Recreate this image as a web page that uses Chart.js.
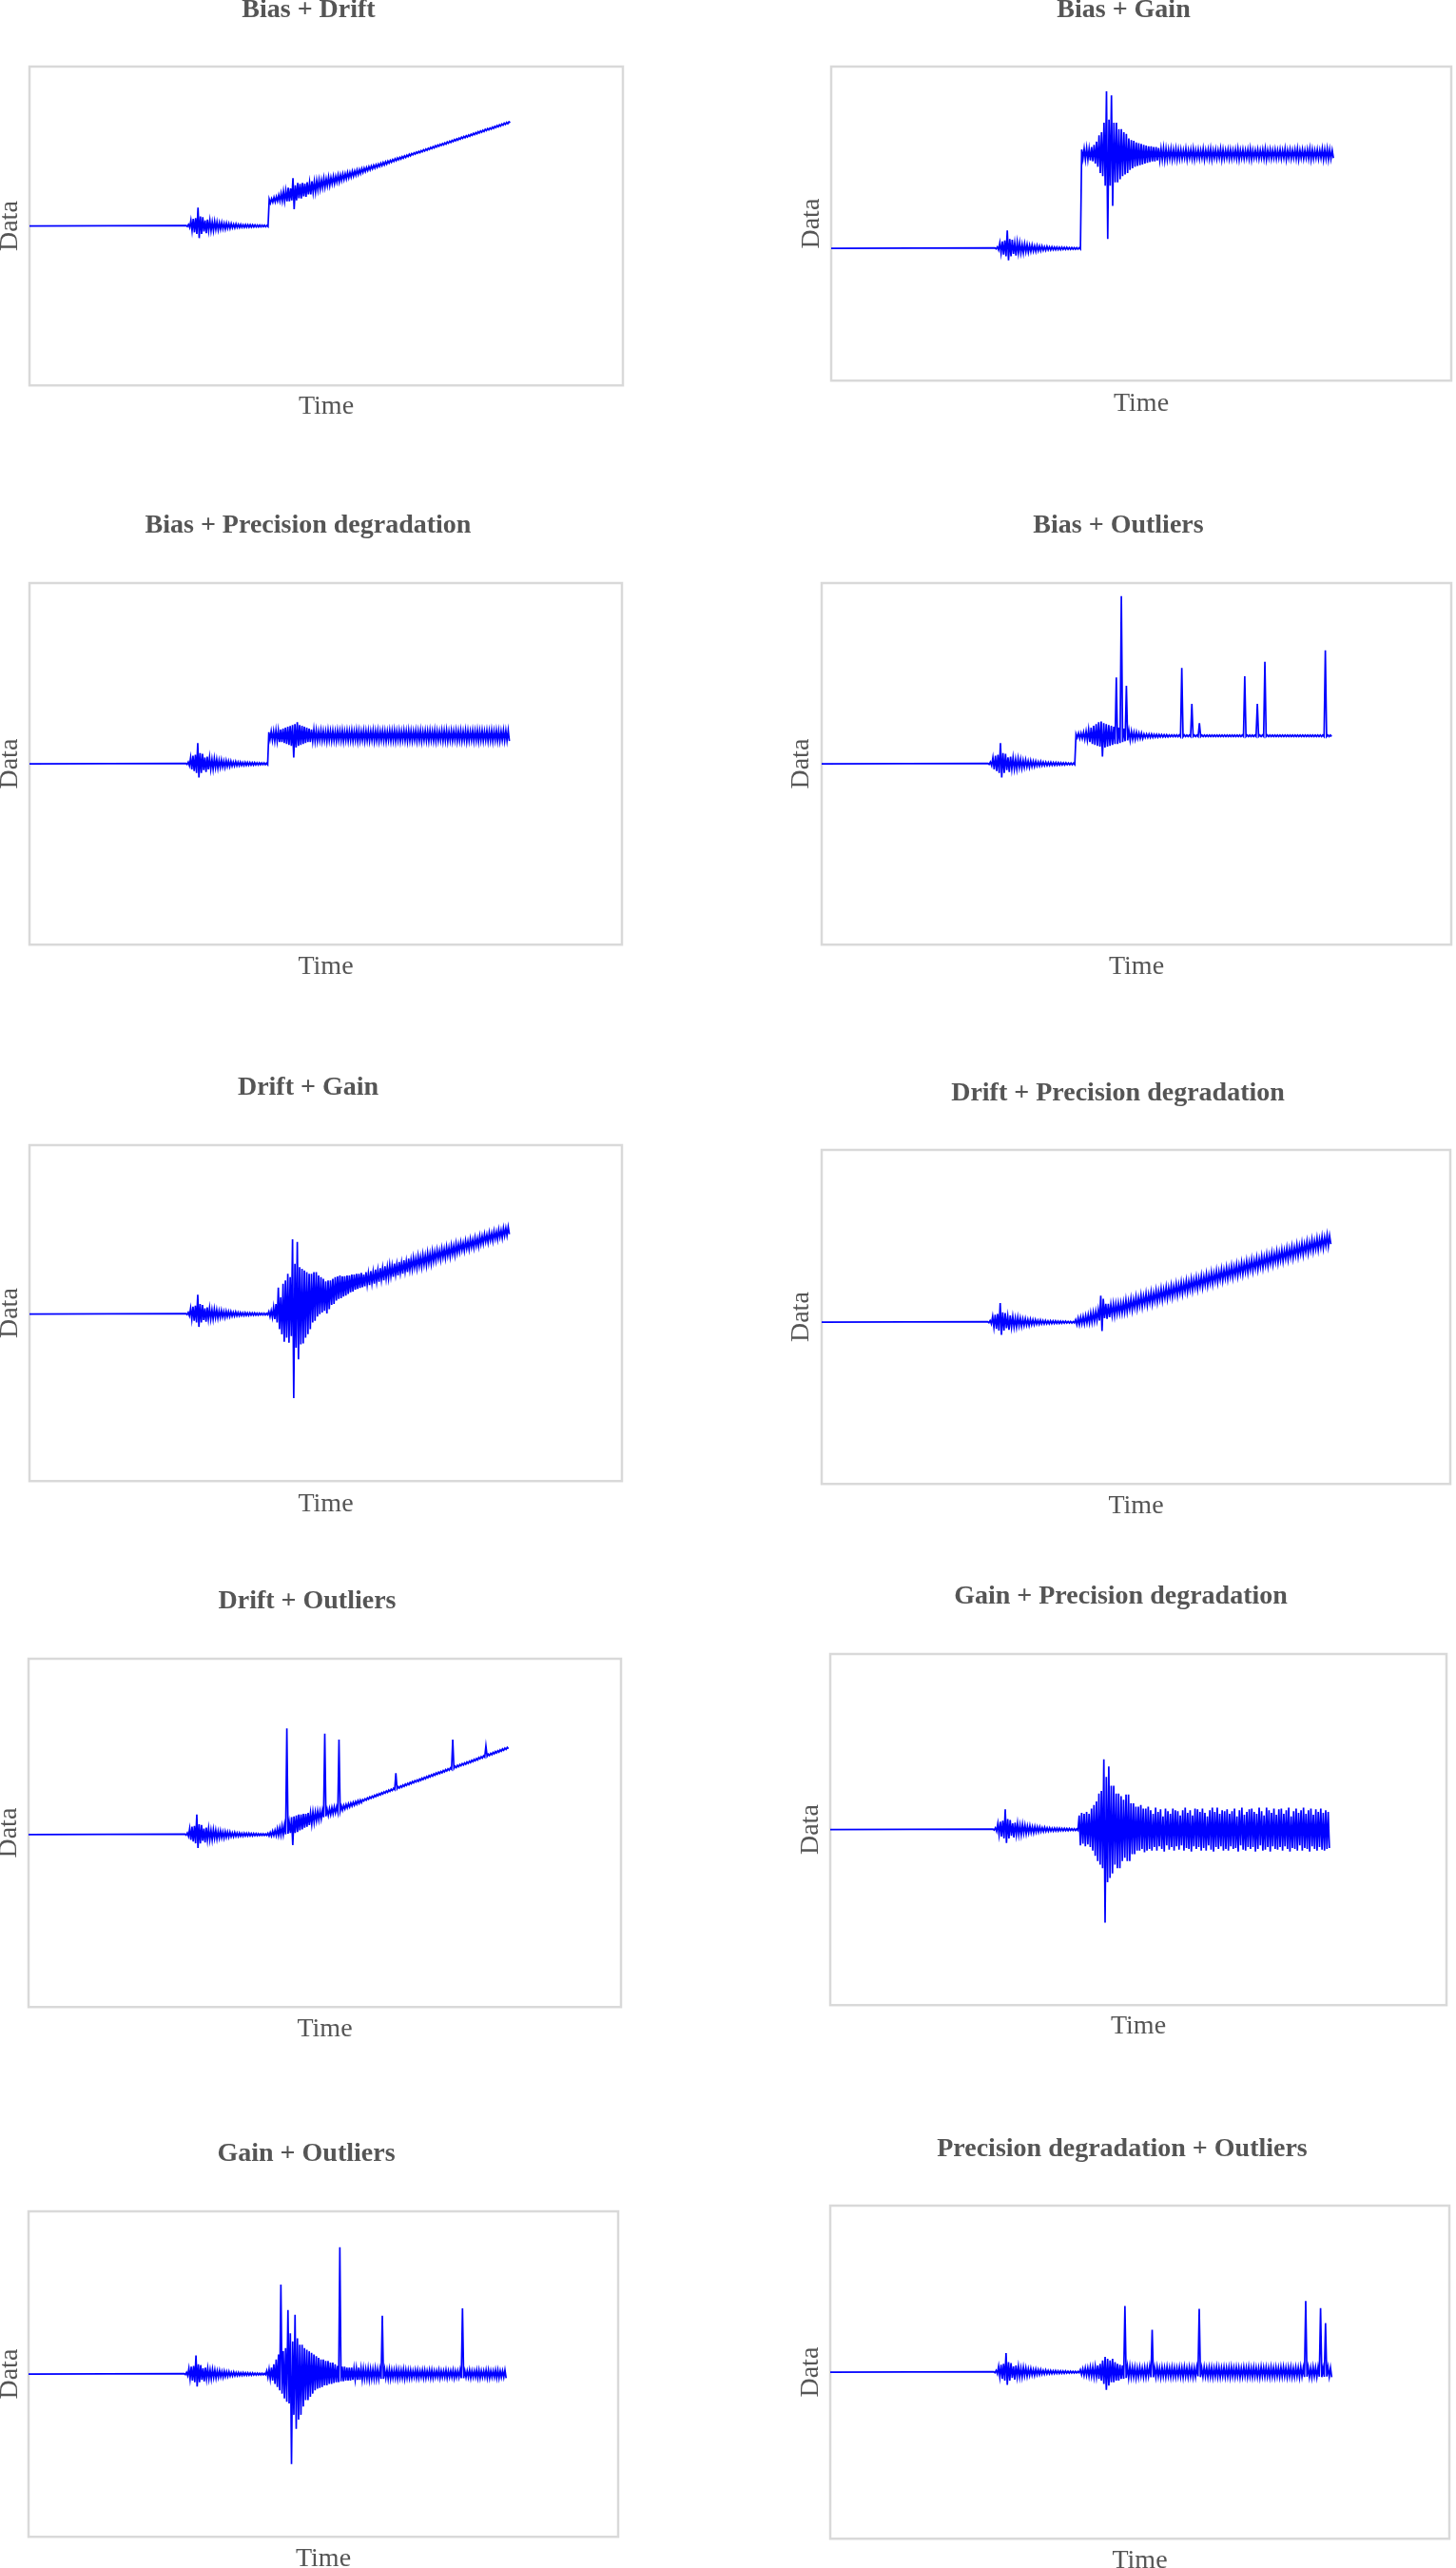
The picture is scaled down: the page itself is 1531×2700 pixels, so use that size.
<!DOCTYPE html>
<html>
<head>
<meta charset="utf-8">
<title>Fault combinations</title>
<script src="https://cdn.jsdelivr.net/npm/chart.js@4.4.1/dist/chart.umd.min.js"></script>
<style>
  html, body { margin: 0; padding: 0; background: #fff; }
  body { position: relative; width: 1531px; height: 2700px; overflow: hidden; }
  canvas { position: absolute; }
</style>
</head>
<body>
<script>
// time runs 0..1000 across the plot; the signal is flat until preStart.
// every sample has a high and a low reading (top / bottom of the band),
// the high one at t, the low one half a step later
const preStart = 264;
const postStart = 404;
const sampleStep = 4;
const timeMax = 1000;

// first small event, the same in every panel (t = 264..400)
const preHigh = [
  0.3, 1, 3.5, 4.5, 5, 11.5, 6, 5.5, 3.5, 4,
  3.5, 2.5, 3, 2.5, 2, 2.2, 1.6, 1.8, 1.5, 1.5,
  1.1, 1.3, 1, 1, 0.8, 0.9, 0.8, 0.8, 0.7, 0.7,
  0.6, 0.6, 0.5, 0.5, 0.4
];
const preLow = [
  -0.3, -1, -3, -4, -5, -7.6, -5, -3.5, -4.5, -3,
  -3, -3, -2.2, -2.5, -2, -1.8, -2, -1.5, -1.5, -1.2,
  -1.2, -1, -1, -0.9, -0.9, -0.8, -0.8, -0.7, -0.7, -0.6,
  -0.6, -0.5, -0.5, -0.5, -0.4
];

// after the faults start (t = 404..808)
const biasDriftHigh = [
  16.8, 17.1, 18.0, 18.4, 19.4, 20.4, 21.8, 22.2, 24.0, 23.6,
  30, 25.5, 27.0, 26.4, 27.0, 26.5, 27.4, 27.2, 28.0, 27.9,
  28.4, 28.9, 28.8, 30.0, 29.6, 30.7, 30.4, 31.2, 31.1, 32.0,
  32.1, 32.7, 32.8, 33.6, 33.6, 34.4, 34.5, 35.2, 35.4, 36.0,
  36.3, 36.7, 37.2, 37.6, 38.1, 38.5, 38.9, 39.4, 39.9, 40.4,
  40.8, 41.2, 41.7, 42.2, 42.7, 43.1, 43.5, 44.0, 44.5, 45.0,
  45.4, 45.9, 46.4, 46.8, 47.3, 47.8, 48.3, 48.8, 49.3, 49.8,
  50.3, 50.8, 51.3, 51.7, 52.2, 52.7, 53.2, 53.7, 54.2, 54.7,
  55.2, 55.7, 56.2, 56.6, 57.1, 57.6, 58.1, 58.6, 59.1, 59.6,
  60.1, 60.6, 61.1, 61.5, 62.0, 62.5, 63.0, 63.5, 64.0, 64.5,
  65.0, 65.4
];
const biasDriftLow = [
  14.4, 14.9, 15.1, 15.6, 15.6, 15.6, 15.5, 15.5, 15.5, 16.0,
  10.5, 16.0, 17.4, 17.2, 18.6, 18.3, 19.8, 19.8, 21.0, 21.2,
  22.6, 23.1, 24.0, 24.3, 25.2, 25.3, 26.4, 26.5, 27.5, 27.6,
  28.5, 29.0, 29.6, 30.2, 30.7, 31.2, 31.8, 32.3, 32.9, 33.5,
  34.1, 34.7, 35.2, 35.8, 36.3, 36.8, 37.3, 37.8, 38.3, 38.8,
  39.4, 40.0, 40.5, 41.0, 41.5, 42.0, 42.5, 43.0, 43.5, 44.0,
  44.6, 45.1, 45.6, 46.0, 46.5, 47.0, 47.5, 48.0, 48.5, 49.0,
  49.5, 50.0, 50.5, 50.9, 51.4, 51.9, 52.4, 52.9, 53.4, 53.9,
  54.4, 54.9, 55.4, 55.8, 56.3, 56.8, 57.3, 57.8, 58.3, 58.8,
  59.3, 59.8, 60.3, 60.7, 61.2, 61.7, 62.2, 62.7, 63.2, 63.7,
  64.2, 64.8
];

const biasGainHigh = [
  63, 63.5, 64, 63.5, 64.5, 66, 68, 72, 74, 80,
  100, 82, 97.5, 80, 80, 76, 76, 74, 73, 70,
  69, 68.5, 67.5, 67, 66.5, 66, 65.5, 65, 65, 64.5,
  64.5, 64, 63.5, 64, 63.5, 63, 63.5, 63, 63.5, 63,
  63, 62.5, 63.5, 62.5, 63, 63.5, 62.5, 63, 62.5, 63.5,
  62.5, 63, 63.5, 62.5, 63, 62.5, 63.5, 63, 62.5, 63,
  63, 62.5, 63, 63.5, 62.5, 63, 62.5, 63, 63.5, 62.5,
  62.5, 63, 62.5, 63, 63.5, 62.5, 63, 62.5, 63, 62.5,
  63, 62.5, 63.5, 62.5, 63, 62.5, 63, 63.5, 62.5, 63,
  62.5, 63, 63.5, 63, 62.5, 63, 62.5, 63.5, 63, 63.5,
  63, 62.5
];
const biasGainLow = [
  57, 56.5, 56.5, 56, 55.5, 54, 52, 48, 46, 40,
  6, 40, 27, 42, 42, 44, 46, 47, 48, 50,
  51, 52, 52.5, 53, 53.5, 54, 54.5, 55, 55.5, 55.5,
  56, 56, 56.5, 56, 56.5, 57, 56.5, 57, 56.5, 57,
  57, 57.5, 56.5, 57.5, 57, 56.5, 57.5, 57, 57.5, 56.5,
  57.5, 57, 56.5, 57.5, 57, 57.5, 56.5, 57, 57.5, 57,
  57, 57.5, 57, 56.5, 57.5, 57, 57.5, 57, 56.5, 57.5,
  57.5, 57, 57.5, 57, 56.5, 57.5, 57, 57.5, 57, 57.5,
  57, 57.5, 56.5, 57.5, 57, 57.5, 57, 56.5, 57.5, 57,
  57.5, 57, 56.5, 57, 57.5, 57, 57.5, 56.5, 57, 56.5,
  57, 57.5
];

const biasPrecisionHigh = [
  17.5, 18, 18, 18.5, 18.5, 19, 19.5, 20, 20.5, 21,
  21.5, 22, 23, 21.5, 21, 20.5, 20, 19.5, 19, 19,
  18.5, 18, 18.5, 18.2, 18, 18.6, 18.2, 18.4, 18, 18.5,
  18.2, 18.6, 18, 18.4, 18.2, 18.5, 18, 18.6, 18.3, 18,
  18.5, 18.2, 18.4, 18, 18.6, 18.2, 18.5, 18, 18.4, 18.2,
  18, 18.5, 18.3, 18.6, 18.1, 18.4, 18, 18.5, 18.2, 18.6,
  18.3, 18, 18.5, 18.2, 18.6, 18, 18.4, 18.2, 18.5, 18,
  18.6, 18.2, 18, 18.5, 18.3, 18.6, 18, 18.4, 18.2, 18.5,
  18.2, 18.5, 18, 18.6, 18.3, 18, 18.5, 18.2, 18.6, 18.3,
  18.5, 18, 18.4, 18.2, 18.6, 18.1, 18.5, 18.3, 18, 18.6,
  18.3, 18.5
];
const biasPrecisionLow = [
  13.5, 13, 12.5, 12.5, 12, 12, 11.5, 11, 10.5, 10,
  3.5, 9, 10, 10.5, 11, 11.5, 12, 12, 12.5, 12.5,
  12.5, 13, 12.7, 12.9, 12.4, 13, 12.6, 12.8, 12.5, 13,
  12.8, 12.4, 13, 12.6, 12.9, 12.5, 13, 12.4, 12.7, 13,
  12.5, 12.9, 12.6, 13, 12.4, 12.8, 12.5, 13, 12.7, 12.4,
  13, 12.6, 12.8, 12.4, 12.9, 12.5, 13, 12.7, 12.4, 12.8,
  12.6, 13, 12.5, 12.8, 12.4, 13, 12.7, 12.5, 12.9, 12.6,
  12.4, 12.8, 13, 12.5, 12.7, 12.4, 12.9, 12.6, 13, 12.5,
  12.8, 12.5, 12.9, 12.4, 12.7, 13, 12.5, 12.8, 12.4, 12.9,
  12.6, 13, 12.5, 12.8, 12.4, 12.9, 12.6, 12.5, 13, 12.7,
  12.8, 12.6
];

const biasOutliersHigh = [
  16.5, 17, 17, 17.5, 18, 19, 20, 21, 22, 23,
  23.5, 22.5, 22, 21.5, 21, 20.5, 47.8, 20, 92.8, 19.5,
  43.2, 18.5, 18, 17.5, 17.5, 17, 17, 16.5, 16.5, 16.5,
  16.5, 16.3, 16.3, 16.2, 16.2, 16.1, 16.1, 16, 16, 16,
  16, 16, 53.1, 16, 15.9, 15.9, 33.2, 15.9, 15.9, 22.5,
  15.9, 15.9, 15.9, 15.9, 15.9, 15.9, 15.9, 15.9, 15.9, 15.9,
  15.9, 15.9, 15.9, 15.9, 15.9, 15.9, 15.9, 48.5, 15.9, 15.9,
  15.9, 15.9, 33.2, 15.9, 15.9, 56.5, 15.9, 15.9, 15.9, 15.9,
  15.9, 15.9, 15.9, 15.9, 15.9, 15.9, 15.9, 15.9, 15.9, 15.9,
  15.9, 15.9, 15.9, 15.9, 15.9, 15.9, 15.9, 15.9, 15.9, 62.8,
  15.9, 15.9
];
const biasOutliersLow = [
  14.5, 14, 14, 13.5, 13, 12, 11, 10.5, 10, 9.5,
  4, 9, 9.5, 10, 10.5, 11, 11, 11.5, 12, 12.5,
  13, 13, 13.5, 13.5, 14, 14, 14, 14.5, 14.5, 14.5,
  14.6, 14.7, 14.7, 14.8, 14.8, 14.9, 14.9, 15, 15, 15,
  15, 15, 15, 15.1, 15.1, 15.1, 15.1, 15.1, 15.1, 15.1,
  15.1, 15.1, 15.1, 15.1, 15.1, 15.1, 15.1, 15.1, 15.1, 15.1,
  15.1, 15.1, 15.1, 15.1, 15.1, 15.1, 15.1, 15.1, 15.1, 15.1,
  15.1, 15.1, 15.1, 15.1, 15.1, 15.1, 15.1, 15.1, 15.1, 15.1,
  15.1, 15.1, 15.1, 15.1, 15.1, 15.1, 15.1, 15.1, 15.1, 15.1,
  15.1, 15.1, 15.1, 15.1, 15.1, 15.1, 15.1, 15.1, 15.1, 15.1,
  15.1, 15.1
];

const driftGainHigh = [
  1.5, 2, 4, 6, 15.8, 10, 18, 20, 24, 22,
  44.5, 30, 43, 28, 27, 26, 25, 24, 24, 25,
  25, 23, 22, 21, 19.5, 20, 20, 21, 22, 22.5,
  23, 22.5, 22.5, 23, 23, 23.5, 23.5, 24, 24, 24.5,
  23.5, 25, 24.2, 25.6, 25.1, 26.5, 26.1, 27.4, 27.2, 28.5,
  28, 29.1, 28.7, 30.0, 29.6, 31.0, 30.6, 32.0, 31.5, 33.0,
  32.4, 33.6, 33.1, 34.5, 34.0, 35.4, 35.0, 36.4, 35.9, 37.3,
  37.1, 38.2, 37.8, 39.1, 38.7, 40.0, 39.6, 40.9, 40.6, 41.9,
  41.6, 42.8, 42.4, 43.7, 43.3, 44.6, 44.2, 45.5, 45.1, 46.5,
  46.4, 47.6, 47.2, 48.5, 48.1, 49.4, 49.0, 50.3, 49.9, 51.3,
  51.2, 52.0
];
const driftGainLow = [
  -1.5, -2, -3, -5, -9, -12, -16.5, -14, -17, -13,
  -50, -20, -27, -18, -17.5, -14, -12, -9, -5, -4,
  -1.5, 0, 1, 2, 0.4, 3, 5.5, 6, 8, 9,
  9.5, 10.5, 11, 12, 13, 13.5, 14.5, 15, 15.5, 16,
  16.5, 17.6, 17.2, 18.5, 18.1, 19.4, 19.2, 20.5, 20.1, 21.4,
  21.5, 22.6, 22.2, 23.5, 23.1, 24.5, 24.0, 25.4, 25.0, 26.4,
  26.6, 27.7, 27.3, 28.6, 28.2, 29.5, 29.0, 30.4, 30.0, 31.3,
  31.8, 32.9, 32.5, 33.8, 33.3, 34.7, 34.2, 35.6, 35.1, 36.4,
  37.0, 38.0, 37.6, 38.9, 38.5, 39.8, 39.4, 40.7, 40.3, 41.6,
  41.9, 43.0, 42.6, 43.9, 43.5, 44.8, 44.4, 45.7, 45.3, 46.6,
  46.7, 47.6
];

const driftPrecisionHigh = [
  1.5, 2.5, 3, 3.5, 4, 4.5, 5.5, 6, 6.5, 7.5,
  15.9, 14, 11, 11, 10.5, 11, 11, 11.5, 11.5, 12,
  13.3, 12.7, 14.2, 13.7, 15.2, 14.7, 16.2, 15.7, 17.2, 16.7,
  18.1, 17.6, 19.1, 18.6, 20.1, 19.6, 21.1, 20.6, 22.0, 21.5,
  23.0, 22.5, 24.0, 23.5, 25.0, 24.5, 26.0, 25.5, 26.9, 26.4,
  27.9, 27.4, 28.9, 28.4, 29.9, 29.4, 30.9, 30.4, 31.8, 31.3,
  32.8, 32.3, 33.8, 33.2, 34.7, 34.2, 35.7, 35.2, 36.7, 36.2,
  37.7, 37.1, 38.6, 38.1, 39.6, 39.1, 40.6, 40.1, 41.6, 41.1,
  42.5, 42.0, 43.5, 43.0, 44.5, 44.0, 45.4, 44.9, 46.4, 45.9,
  47.4, 46.9, 48.4, 47.9, 49.4, 48.8, 50.3, 49.8, 51.3, 50.8,
  52.3, 51.8
];
const driftPrecisionLow = [
  -1.5, -1.5, -1, -1, -0.5, -0.5, 0, 0.5, 1, 1,
  -5.2, 2.5, 2, 3, 4, 4, 5, 5.5, 5.5, 6,
  6.3, 7.7, 7.2, 8.7, 8.2, 9.7, 9.2, 10.7, 10.2, 11.7,
  11.1, 12.6, 12.1, 13.6, 13.1, 14.6, 14.1, 15.6, 15.0, 16.5,
  16.0, 17.5, 17.0, 18.5, 18.0, 19.5, 19.0, 20.5, 19.9, 21.4,
  20.9, 22.4, 21.9, 23.4, 22.9, 24.4, 23.9, 25.4, 24.8, 26.3,
  25.8, 27.3, 26.8, 28.2, 27.7, 29.2, 28.7, 30.2, 29.7, 31.2,
  30.7, 32.1, 31.6, 33.1, 32.6, 34.1, 33.6, 35.1, 34.6, 36.1,
  35.5, 37.0, 36.5, 38.0, 37.5, 39.0, 38.4, 39.9, 39.4, 40.9,
  40.4, 41.9, 41.4, 42.9, 42.4, 43.8, 43.3, 44.8, 44.3, 45.8,
  45.3, 46.8
];

const driftOutliersHigh = [
  0.8, 1.2, 2, 2.5, 3.5, 4, 5, 5.5, 61, 7,
  10, 10.5, 11, 11.5, 11.5, 12, 12, 12.5, 12.5, 13,
  13, 13.5, 13.5, 14, 58, 14.5, 15, 15.5, 16, 16,
  54.6, 16.5, 16.8, 17.3, 17.8, 18.2, 18.6, 19, 19.5, 19.9,
  20.1, 20.6, 21.1, 21.6, 22.1, 22.6, 23.1, 23.6, 24.1, 24.6,
  25.1, 25.6, 26.1, 26.6, 35.3, 27.5, 28.0, 28.5, 29.0, 29.5,
  30.0, 30.5, 31.0, 31.4, 31.9, 32.4, 32.9, 33.4, 33.9, 34.4,
  34.9, 35.4, 35.9, 36.3, 36.8, 37.3, 37.8, 38.3, 54.6, 39.3,
  39.8, 40.3, 40.8, 41.2, 41.7, 42.2, 42.7, 43.2, 43.7, 44.3,
  44.8, 45.3, 50.9, 46.2, 46.7, 47.2, 47.7, 48.2, 48.7, 49.2,
  49.7, 50.1
];
const driftOutliersLow = [
  -0.8, -0.8, -0.5, -0.5, -0.5, -0.3, 0, 0.2, 0.5, 1,
  -6, 1, 1.5, 2.5, 3, 4, 4.5, 5.5, 6, 7,
  8, 8.5, 9, 10, 10.5, 11, 11.5, 12, 12.5, 13,
  13.5, 14, 14.7, 15.3, 15.8, 16.4, 16.9, 17.4, 17.9, 18.4,
  19.3, 19.8, 20.3, 20.8, 21.3, 21.8, 22.3, 22.8, 23.3, 23.8,
  24.3, 24.8, 25.3, 25.8, 26.3, 26.7, 27.2, 27.7, 28.2, 28.7,
  29.2, 29.7, 30.2, 30.6, 31.1, 31.6, 32.1, 32.6, 33.1, 33.6,
  34.1, 34.6, 35.1, 35.5, 36.0, 36.5, 37.0, 37.5, 38.0, 38.5,
  39.0, 39.5, 40.0, 40.4, 40.9, 41.4, 41.9, 42.4, 42.9, 43.5,
  44.0, 44.5, 45.0, 45.4, 45.9, 46.4, 46.9, 47.4, 47.9, 48.4,
  48.9, 49.3
];

const gainPrecisionHigh = [
  8, 9.5, 9, 10, 9, 12, 14, 16, 20.5, 22,
  40, 30, 36, 25, 25, 20.5, 20.5, 19, 17, 20,
  20, 15, 15, 13, 13, 14, 12, 12, 13, 11,
  9, 12.5, 10, 11.5, 7.5, 12, 10.5, 9, 12, 11,
  10.5, 8, 11, 12.5, 9.5, 11, 8, 12, 11.5, 10,
  12, 9.5, 7.5, 11, 12.5, 10, 12.5, 9, 11, 10.5,
  11.5, 9, 10.5, 12, 7.5, 11, 12.5, 8.5, 10, 11.5,
  12, 10, 9, 12.5, 10.5, 8, 12.5, 11, 9.5, 12,
  8.5, 11.5, 12, 9, 11, 12.5, 7.5, 10.5, 12, 9.5,
  11, 12.5, 9, 11, 12, 8.5, 11.5, 10, 12, 9.5,
  11, 10
];
const gainPrecisionLow = [
  -9, -8, -9.5, -8.5, -10, -12, -15, -18, -20, -22,
  -53, -30, -27.6, -25, -20, -22, -22, -18, -16, -18,
  -18, -14, -14, -12, -12, -11, -13, -12, -11, -12,
  -10, -12, -9.5, -11, -12.5, -9, -11.5, -10, -12, -9.5,
  -11.5, -9, -12, -10.5, -11, -12.5, -9.5, -11, -10, -12,
  -10.5, -12, -9, -11.5, -12.5, -10, -11, -9.5, -12, -11,
  -12, -9.5, -11, -10.5, -12.5, -9, -11.5, -12, -10, -11,
  -10, -12.5, -11, -9, -12, -11.5, -10, -12.5, -9.5, -11,
  -11.5, -10, -12, -9.5, -11, -12.5, -10.5, -11, -12, -9,
  -12, -10.5, -11, -12.5, -9.5, -11, -12, -10, -11.5, -12,
  -11, -10.5
];

const gainOutliersHigh = [
  2, 3, 4, 6, 9, 12, 55, 14, 16, 39.4,
  25, 20, 36.5, 22, 18, 18, 16, 15, 14, 13,
  12, 11, 10, 9, 9, 8, 8, 7, 7, 6,
  5, 78, 4.5, 4.5, 4, 4, 4, 3.5, 3.5, 4,
  3.5, 3.5, 3, 3.5, 3, 3, 3.5, 3, 3, 35.9,
  3, 2.5, 3, 2.5, 2.5, 3, 2.5, 2.5, 3, 2.5,
  2.5, 2.5, 2, 2.5, 2.5, 2, 2.5, 2.5, 2, 2.5,
  2.5, 2, 2, 2.5, 2, 2, 2.5, 2, 2, 2.5,
  2, 2, 2.5, 40.4, 2, 2, 2.5, 2, 2, 2.5,
  2.5, 2, 2, 2.5, 2.5, 2, 2, 2.5, 2.5, 2,
  2, 2.5
];
const gainOutliersLow = [
  -2, -3, -4, -6, -8, -10, -12, -15, -17, -18,
  -55.3, -25, -33.7, -28, -25, -20, -16, -16, -14, -12,
  -10, -9, -8.5, -8, -7, -7, -6, -6, -5.5, -5,
  -5, -4.5, -4.5, -4, -4, -4, -3.5, -3.5, -3.5, -3.5,
  -3.5, -3, -3, -3.5, -3, -3, -3, -3, -3, -3,
  -2.5, -3, -3, -2.5, -2.5, -3, -2.5, -2.5, -3, -2.5,
  -2.5, -2.5, -2, -2.5, -2.5, -2, -2.5, -2.5, -2, -2.5,
  -2.5, -2, -2, -2.5, -2, -2, -2.5, -2, -2, -2.5,
  -2, -2, -2.5, -2.5, -2, -2, -2.5, -2, -2, -2.5,
  -2.5, -2, -2, -2.5, -2.5, -2, -2, -2.5, -2.5, -2,
  -2, -2.5
];

const precisionOutliersHigh = [
  1.5, 2, 2.5, 2.5, 3, 3, 3.5, 4, 5, 7,
  9.2, 8, 7, 8, 6, 5, 4.5, 4, 39.7, 3.5,
  3.5, 3, 3, 2.5, 3, 2.5, 3, 3, 3.5, 25.5,
  2.8, 3.2, 2.5, 3, 2.7, 3.2, 2.6, 3, 2.8, 2.5,
  3, 2.7, 3.2, 2.5, 3, 2.8, 2.6, 3.1, 38, 2.7,
  3.2, 2.6, 2.9, 3, 2.5, 3.2, 2.8, 2.6, 3, 2.7,
  2.9, 3.2, 2.6, 3, 2.8, 2.5, 3.1, 2.7, 3.2, 2.6,
  3, 2.7, 2.5, 3.2, 2.8, 3, 2.6, 3.1, 2.7, 3,
  2.6, 3, 3.2, 2.7, 2.9, 3.1, 2.5, 3, 2.8, 3.2,
  2.7, 42.8, 3, 2.6, 3.2, 2.8, 3, 38.4, 2.6, 29.4,
  3, 2.7
];
const precisionOutliersLow = [
  -1.5, -2, -2, -2.5, -2.5, -3, -3, -4, -5, -7,
  -10.6, -8, -6, -6, -5, -5, -4, -4, -3.5, -3.5,
  -3, -3, -3.5, -3, -2.5, -3, -3, -2.5, -3, -3,
  -3, -2.6, -3.2, -2.7, -3, -2.5, -3.1, -2.8, -3, -2.6,
  -2.8, -3.2, -2.6, -3, -2.7, -3.1, -2.9, -2.5, -3, -2.8,
  -2.6, -3, -2.8, -3.2, -2.7, -2.9, -3.1, -2.6, -3, -2.8,
  -3.1, -2.7, -3, -2.6, -3.2, -2.8, -2.6, -3, -2.7, -3.1,
  -2.7, -3, -3.2, -2.6, -2.9, -2.7, -3.1, -2.8, -3, -2.6,
  -3, -2.8, -2.6, -3.1, -2.7, -3, -2.9, -2.6, -3.2, -2.7,
  -2.9, -2.7, -3, -3.2, -2.6, -3, -2.7, -3, -2.8, -2.6,
  -2.8, -3
];

const panelTitles = [
  "Bias + Drift", "Bias + Gain",
  "Bias + Precision degradation", "Bias + Outliers",
  "Drift + Gain", "Drift + Precision degradation",
  "Drift + Outliers", "Gain + Precision degradation",
  "Gain + Outliers", "Precision degradation + Outliers"
];
const panelHigh = [
  biasDriftHigh, biasGainHigh, biasPrecisionHigh, biasOutliersHigh, driftGainHigh,
  driftPrecisionHigh, driftOutliersHigh, gainPrecisionHigh, gainOutliersHigh, precisionOutliersHigh
];
const panelLow = [
  biasDriftLow, biasGainLow, biasPrecisionLow, biasOutliersLow, driftGainLow,
  driftPrecisionLow, driftOutliersLow, gainPrecisionLow, gainOutliersLow, precisionOutliersLow
];
const panelYMin = [-100, -84.2, -100, -100, -99.4, -96.8, -99, -100, -100, -100];
const panelYMax = [100, 115.8, 100, 100, 100.6, 103.2, 101, 100, 100, 100];

// page geometry: plot box [left, top, right, bottom], title / axis label centres
const panelLayout = [
  { box: [31, 70, 655, 403], titleY: 11, timeY: 425, dataX: 10.5 },
  { box: [874, 70, 1526, 398], titleY: 11, timeY: 422, dataX: 854 },
  { box: [31, 613, 654, 991], titleY: 553, timeY: 1014, dataX: 10.5 },
  { box: [864, 613, 1526, 991], titleY: 553, timeY: 1014, dataX: 843 },
  { box: [31, 1204, 654, 1555], titleY: 1144, timeY: 1579, dataX: 10.5 },
  { box: [864, 1209, 1525, 1558], titleY: 1150, timeY: 1581, dataX: 843 },
  { box: [30, 1744, 653, 2108], titleY: 1684, timeY: 2131, dataX: 10 },
  { box: [873, 1739, 1521, 2106], titleY: 1679, timeY: 2128, dataX: 853 },
  { box: [30, 2325, 650, 2665], titleY: 2265, timeY: 2688, dataX: 10.5 },
  { box: [873, 2319, 1524, 2667], titleY: 2260, timeY: 2690, dataX: 853 }
];

const serif = "'Liberation Serif', 'Times New Roman', serif";
const textGrey = "#555";
const fontSize = 28;
const lineH = 1.2;
const half = fontSize * lineH / 2;

function addSamples(pts, start, high, low) {
  high.forEach((v, i) => {
    const t = start + i * sampleStep;
    pts.push({ x: t, y: v });
    pts.push({ x: t + sampleStep / 2, y: low[i] });
  });
}

function buildPoints(n) {
  const pts = [{ x: 0, y: 0 }];
  addSamples(pts, preStart, preHigh, preLow);
  addSamples(pts, postStart, panelHigh[n], panelLow[n]);
  return pts;
}

// grey frame round the plot area
const framePlugin = {
  id: "frame",
  beforeDatasetsDraw(chart) {
    const { ctx, chartArea: a } = chart;
    ctx.save();
    ctx.strokeStyle = "#d9d9d9";
    ctx.lineWidth = 2.5;
    ctx.strokeRect(a.left, a.top, a.right - a.left, a.bottom - a.top);
    ctx.restore();
  }
};

panelTitles.forEach((title, n) => {
  const g = panelLayout[n];
  const [l, t, r, b] = g.box;
  const cl = Math.round(g.dataX - half);
  const ct = Math.round(g.titleY - half);
  const cw = r + 3 - cl;
  const ch = Math.round(g.timeY + half + 2) - ct;

  const yPad = l - cl - 2 * half;
  const titlePad = t - ct - 2 * half;
  const xPad = g.timeY - b - half;

  const cv = document.createElement("canvas");
  cv.width = cw;
  cv.height = ch;
  cv.style.left = cl + "px";
  cv.style.top = ct + "px";
  document.body.appendChild(cv);

  const axisTitle = (text, padding) => ({
    display: true,
    text: text,
    color: textGrey,
    font: { family: serif, size: fontSize, lineHeight: lineH },
    padding: padding
  });

  new Chart(cv, {
    type: "line",
    data: {
      datasets: [{
        data: buildPoints(n),
        borderColor: "#0000ff",
        borderWidth: 1.7,
        pointRadius: 0,
        tension: 0,
        fill: false
      }]
    },
    options: {
      responsive: false,
      animation: false,
      devicePixelRatio: 1,
      layout: { padding: { left: 0, top: 0, right: 3, bottom: 0 } },
      plugins: {
        legend: { display: false },
        tooltip: { enabled: false },
        title: {
          display: true,
          text: title,
          color: textGrey,
          font: { family: serif, size: fontSize, weight: "bold", lineHeight: lineH },
          padding: { top: 0, bottom: titlePad }
        }
      },
      scales: {
        x: {
          type: "linear",
          min: 0,
          max: timeMax,
          grid: { display: false, drawTicks: false },
          border: { display: false },
          ticks: { display: false },
          title: axisTitle("Time", { top: xPad, bottom: 0 })
        },
        y: {
          min: panelYMin[n],
          max: panelYMax[n],
          grid: { display: false, drawTicks: false },
          border: { display: false },
          ticks: { display: false },
          title: axisTitle("Data", { top: 0, bottom: yPad })
        }
      }
    },
    plugins: [framePlugin]
  });
});
</script>
</body>
</html>
